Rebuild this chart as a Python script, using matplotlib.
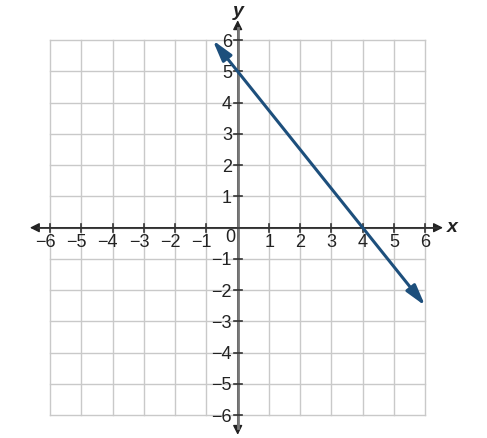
import matplotlib
matplotlib.use("Agg")
import matplotlib.pyplot as plt
import numpy as np

# Data
x_ticks = [-6, -5, -4, -3, -2, -1, 1, 2, 3, 4, 5, 6]
y_ticks = [-6, -5, -4, -3, -2, -1, 1, 2, 3, 4, 5, 6]
grid_vals = list(range(-6, 7))
line_x = [-0.8, 6.0]          # endpoints of y = 5 - 1.25x
slope = -1.25
intercept = 5.0
line_y = [intercept + slope * v for v in line_x]

def lab(v):
    return ('\u2212%d' % abs(v)) if v < 0 else str(v)

plt.rcParams['font.family'] = ['Liberation Sans', 'DejaVu Sans']

fig = plt.figure(figsize=(4.87, 4.38), dpi=100)
ax = fig.add_axes([0, 0, 1, 1])
ax.set_xlim(-7.606, 7.978)
ax.set_ylim(-6.73, 7.286)
ax.axis('off')

grid_c = '#c9c9c9'
for g in grid_vals:
    ax.plot([g, g], [-6, 6], color=grid_c, lw=1.0, zorder=1)
    ax.plot([-6, 6], [g, g], color=grid_c, lw=1.0, zorder=1)

# axes with arrows
ax.annotate('', xy=(-6.65, 0), xytext=(6.57, 0),
            arrowprops=dict(arrowstyle='<|-|>', color='#222222', lw=1.0,
                            mutation_scale=14, shrinkA=0, shrinkB=0), zorder=3)
ax.annotate('', xy=(0, 6.64), xytext=(0, -6.63),
            arrowprops=dict(arrowstyle='<|-|>', color='#222222', lw=1.0,
                            mutation_scale=14, shrinkA=0, shrinkB=0), zorder=3)
ax.plot([0, 0], [-6.4, 6.4], color='#777777', lw=2.0, zorder=3)
ax.plot([-6.4, 6.4], [0, 0], color='#333333', lw=1.2, zorder=3)

# ticks
tl = 0.13
for t in x_ticks:
    ax.plot([t, t], [-tl, tl], color='#333333', lw=1.2, zorder=4)
for t in y_ticks:
    ax.plot([-tl, tl], [t, t], color='#333333', lw=1.2, zorder=4)

fs = 13
for t in x_ticks:
    ax.text(t + 0.17, -0.2, lab(t), ha='right', va='top', fontsize=fs, color='#222222')
for t in y_ticks:
    ax.text(-0.18, t - 0.06, lab(t), ha='right', va='center', fontsize=fs, color='#222222')
ax.text(-0.23, -0.31, '0', ha='center', va='center', fontsize=fs, color='#222222')

ax.text(0.02, 6.93, 'y', ha='center', va='center', fontsize=14, style='italic',
        fontweight='bold', color='#222222')
ax.text(6.86, 0.02, 'x', ha='center', va='center', fontsize=14, style='italic',
        fontweight='bold', color='#222222')

# the line
ax.annotate('', xy=(line_x[0], line_y[0]), xytext=(line_x[1], line_y[1]),
            arrowprops=dict(arrowstyle='<|-|>,head_length=0.9,head_width=0.25',
                            color='#1d4f7c', lw=2.2, mutation_scale=14,
                            shrinkA=0, shrinkB=0), zorder=5)

fig.savefig('out.png', dpi=100)
